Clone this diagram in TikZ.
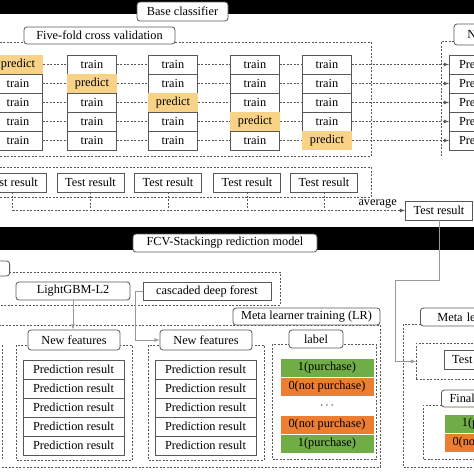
\documentclass[tikz,border=0pt]{standalone}
\usepackage{fontspec}
\setmainfont{Liberation Serif}
\usetikzlibrary{positioning}

\definecolor{predictc}{RGB}{248,211,135}
\definecolor{buyc}{RGB}{112,173,71}
\definecolor{nobuyc}{RGB}{237,125,49}
\definecolor{linec}{RGB}{88,88,88}

\begin{document}
\begin{tikzpicture}[x=1pt,y=-1pt,
     font=\fontsize{12.3}{14}\selectfont,
     title/.style = {draw=linec, fill=white, rounded corners=3pt, inner sep=0pt, line width=0.8pt},
     cell/.style = {draw=linec, fill=white, minimum width=49pt, minimum height=19pt, inner sep=0pt, outer sep=0pt, line width=0.8pt},
     pcell/.style = {fill=predictc, minimum width=50pt, minimum height=19pt, inner sep=0pt, outer sep=0pt},
     result/.style = {draw=linec, fill=white, minimum width=67pt, minimum height=19pt, inner sep=0pt, line width=0.8pt},
     wide/.style = {draw=linec, fill=white, minimum width=101pt, minimum height=19pt, inner sep=0pt, outer sep=0pt, line width=0.8pt},
     lab/.style = {draw=white, minimum width=94pt, minimum height=19pt, inner sep=0pt, outer sep=0pt, line width=0.4pt},
     group/.style = {draw=linec, dash pattern=on 2pt off 1.5pt, line width=0.8pt},
     link/.style = {draw=linec, dash pattern=on 2pt off 1.5pt, line width=0.8pt},
     arrow/.style = {draw=gray!80, line width=0.8pt, -latex}
    ]
    \useasboundingbox (0,0) rectangle (474,474);
    \clip (0,0) rectangle (474,474);
    \fill[white] (0,0) rectangle (474,474);

    % black bands
    \fill[black] (0,0) rectangle (474,14);
    \fill[black] (0,227) rectangle (474,250);

    % base classifier: containers
    \draw[group] (-5,42) rectangle (371,156);
    \draw[group] (-5,167) rectangle (371,197);
    \draw[group] (441,156) -- (441,41) -- (480,41);

    \node [title, minimum width=91pt, minimum height=19pt] (base) at (182.5,11.5) {Base classifier};
    \node [title, minimum width=151pt, minimum height=17pt] (cv) at (99.5,35.5) {Five-fold cross validation};
    \node [title, minimum width=92pt, minimum height=21pt] (nfr) at (500,34.5) {New features};

    % fold 1
    \node [pcell] (f1r1) at (18,64.5) {predict};
    \node [cell, below=0pt of f1r1] (f1r2) {train};
    \node [cell, below=0pt of f1r2] (f1r3) {train};
    \node [cell, below=0pt of f1r3] (f1r4) {train};
    \node [cell, below=0pt of f1r4] (f1r5) {train};
    % fold 2
    \node [cell] (f2r1) at (92,64.5) {train};
    \node [pcell, below=0pt of f2r1] (f2r2) {predict};
    \node [cell, below=0pt of f2r2] (f2r3) {train};
    \node [cell, below=0pt of f2r3] (f2r4) {train};
    \node [cell, below=0pt of f2r4] (f2r5) {train};
    % fold 3
    \node [cell] (f3r1) at (173,64.5) {train};
    \node [cell, below=0pt of f3r1] (f3r2) {train};
    \node [pcell, below=0pt of f3r2] (f3r3) {predict};
    \node [cell, below=0pt of f3r3] (f3r4) {train};
    \node [cell, below=0pt of f3r4] (f3r5) {train};
    % fold 4
    \node [cell] (f4r1) at (255,64.5) {train};
    \node [cell, below=0pt of f4r1] (f4r2) {train};
    \node [cell, below=0pt of f4r2] (f4r3) {train};
    \node [pcell, below=0pt of f4r3] (f4r4) {predict};
    \node [cell, below=0pt of f4r4] (f4r5) {train};
    % fold 5
    \node [cell] (f5r1) at (327,64.5) {train};
    \node [cell, below=0pt of f5r1] (f5r2) {train};
    \node [cell, below=0pt of f5r2] (f5r3) {train};
    \node [cell, below=0pt of f5r3] (f5r4) {train};
    \node [pcell, below=0pt of f5r4] (f5r5) {predict};

    % new features on the right
    \node [wide, anchor=west] (p1) at (449,64.5) {Prediction result};
    \node [wide, below=0pt of p1] (p2) {Prediction result};
    \node [wide, below=0pt of p2] (p3) {Prediction result};
    \node [wide, below=0pt of p3] (p4) {Prediction result};
    \node [wide, below=0pt of p4] (p5) {Prediction result};

    \draw[link] (f1r1) -- (f2r1);
    \draw[link] (f2r1) -- (f3r1);
    \draw[link] (f3r1) -- (f4r1);
    \draw[link] (f4r1) -- (f5r1);
    \draw[link] (f1r2) -- (f2r2);
    \draw[link] (f2r2) -- (f3r2);
    \draw[link] (f3r2) -- (f4r2);
    \draw[link] (f4r2) -- (f5r2);
    \draw[link] (f1r3) -- (f2r3);
    \draw[link] (f2r3) -- (f3r3);
    \draw[link] (f3r3) -- (f4r3);
    \draw[link] (f4r3) -- (f5r3);
    \draw[link] (f1r4) -- (f2r4);
    \draw[link] (f2r4) -- (f3r4);
    \draw[link] (f3r4) -- (f4r4);
    \draw[link] (f4r4) -- (f5r4);
    \draw[link] (f1r5) -- (f2r5);
    \draw[link] (f2r5) -- (f3r5);
    \draw[link] (f3r5) -- (f4r5);
    \draw[link] (f4r5) -- (f5r5);
    \draw[link, -latex] (f5r1) -- (p1);
    \draw[link, -latex] (f5r2) -- (p2);
    \draw[link, -latex] (f5r3) -- (p3);
    \draw[link, -latex] (f5r4) -- (p4);
    \draw[link, -latex] (f5r5) -- (p5);

    % test results and average
    \node [result] (t1) at (12.5,182.5) {Test result};
    \node [result] (t2) at (90.5,182.5) {Test result};
    \node [result] (t3) at (168,182.5) {Test result};
    \node [result] (t4) at (247,182.5) {Test result};
    \node [result] (t5) at (324,182.5) {Test result};
    \node [result] (avgres) at (439,210.5) {Test result};

    \draw[link] (t1) -- (t1 |- avgres.west);
    \draw[link] (t2) -- (t2 |- avgres.west);
    \draw[link] (t3) -- (t3 |- avgres.west);
    \draw[link] (t4) -- (t4 |- avgres.west);
    \draw[link] (t5) -- (t5 |- avgres.west);
    \draw[link, -latex] (t1 |- avgres.west) -- (avgres.west)
        node [pos=0.93, above, inner sep=1.5pt] {average};

    % stacking model: containers
    \draw[group] (-5,272) -- (280,272) -- (280,305) -- (-5,305);
    \draw[group] (-5,325) -- (380,325) -- (380,467) -- (-5,467);
    \draw[group] (2,345) -- (2,460);
    \draw[group] (16,345) rectangle (132,460);
    \draw[group] (148,345) rectangle (264,460);
    \draw[group] (272,344) rectangle (376,459);
    \draw[group] (480,324) -- (403,324) -- (403,467) -- (480,467);
    \draw[group] (480,405) -- (423,405) -- (423,459) -- (480,459);

    \node [title, minimum width=184pt, minimum height=18pt] (fcv) at (225,243) {FCV-Stackingp rediction model};
    \node [title, minimum width=40pt, minimum height=15pt, anchor=east] (lefttitle) at (10,268.5) {};
    \node [title, minimum width=114pt, minimum height=18pt] (lgbm) at (73,291) {LightGBM-L2};
    \node [title, rounded corners=0pt, minimum width=128pt, minimum height=18pt] (cdf) at (207,291) {cascaded deep forest};
    \node [title, minimum width=147pt, minimum height=17pt] (metatr) at (306.5,316.5) {Meta learner training (LR)};
    \node [title, minimum width=92pt, minimum height=20pt] (nf1) at (74,340) {New features};
    \node [title, minimum width=92pt, minimum height=20pt] (nf2) at (206,340) {New features};
    \node [title, minimum width=54pt, minimum height=18pt] (label) at (316,339) {label};
    \node [title, anchor=west, inner xsep=17pt, text width=90pt, align=left, minimum height=18pt] (metapr) at (420,317) {Meta learner};
    \node [group, minimum width=70pt, minimum height=36pt, anchor=north west] (testgrp) at (416,343) {};
    \node [result] (mtest) at (477.5,359.5) {Test result};
    \node [title, minimum width=72pt, minimum height=17pt, anchor=west] (final) at (441,398.5) {Final result};

    % prediction results
    \node [wide] (a1) at (73.5,369.5) {Prediction result};
    \node [wide, below=0pt of a1] (a2) {Prediction result};
    \node [wide, below=0pt of a2] (a3) {Prediction result};
    \node [wide, below=0pt of a3] (a4) {Prediction result};
    \node [wide, below=0pt of a4] (a5) {Prediction result};
    \node [wide] (b1) at (205.5,369.5) {Prediction result};
    \node [wide, below=0pt of b1] (b2) {Prediction result};
    \node [wide, below=0pt of b2] (b3) {Prediction result};
    \node [wide, below=0pt of b3] (b4) {Prediction result};
    \node [wide, below=0pt of b4] (b5) {Prediction result};

    % labels
    \node [lab, fill=buyc] (l1) at (327,367.5) {1(purchase)};
    \node [lab, fill=nobuyc, below=0pt of l1] (l2) {0(not purchase)};
    \node [lab, fill=white, below=0pt of l2] (l3) {\ensuremath{\cdots}};
    \node [lab, fill=nobuyc, below=0pt of l3] (l4) {0(not purchase)};
    \node [lab, fill=buyc, below=0pt of l4] (l5) {1(purchase)};
    \node [lab, fill=buyc, anchor=north west] (g1) at (444,414) {1(purchase)};
    \node [lab, fill=nobuyc, below=0pt of g1] (g2) {0(not purchase)};

    % connectors
    \draw[arrow] (lgbm.south) -- (lgbm.south |- nf1.north);
    \draw[arrow] (cdf.west) -- ++(-7,0) |- (nf2.west);
    \coordinate (bend) at (395,280);
    \draw[arrow] (avgres.south) |- (bend) |- (testgrp.west);
\end{tikzpicture}
\end{document}
